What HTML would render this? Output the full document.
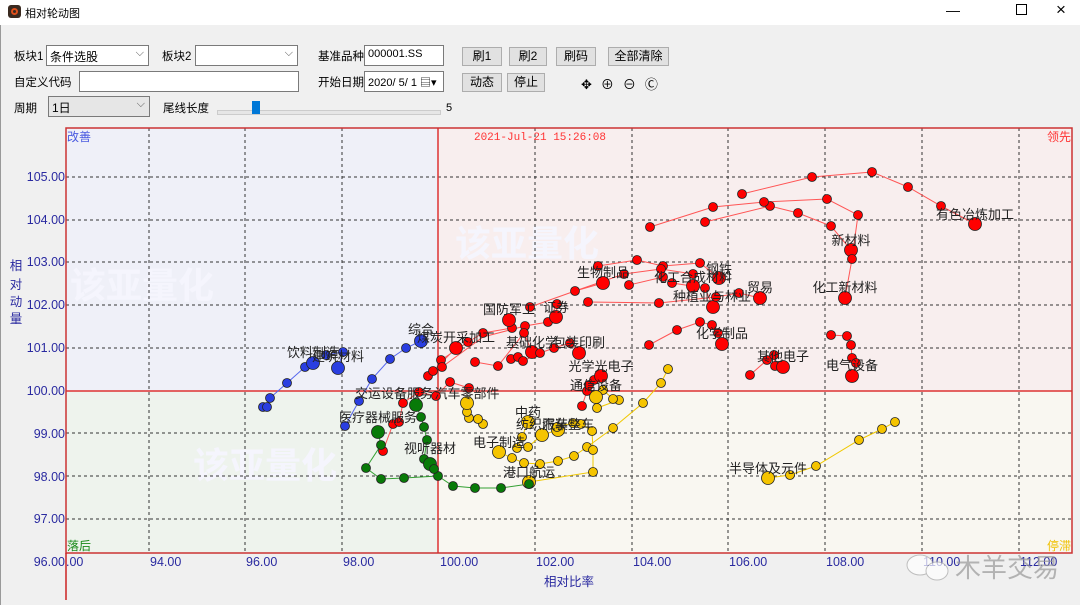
<!DOCTYPE html>
<html><head><meta charset="utf-8"><style>
body{margin:0;width:1080px;height:605px;background:#f0f0f0;font-family:"Liberation Sans","Noto Sans CJK SC",sans-serif;font-size:12px;color:#000;position:relative;overflow:hidden}
.a{position:absolute}
.in{position:absolute;background:#fff;border:1px solid #7a7a7a;box-sizing:border-box;height:21px}
.btn{position:absolute;background:#e1e1e1;border:1px solid #adadad;box-sizing:border-box;height:19px;text-align:center;line-height:17px;font-size:12px}
.dd:after{content:"⌵";position:absolute;right:4px;top:1px;color:#555;font-size:11px}
</style></head><body>
<div class="a" style="left:0;top:0;width:1080px;height:25px;background:#fff"></div>
<div class="a" style="left:8px;top:5px;width:13px;height:13px;background:#3a2a20;border-radius:3px"></div>
<div class="a" style="left:11px;top:8px;width:7px;height:7px;border:2px solid #e0501c;border-radius:50%;box-sizing:border-box"></div>
<div class="a" style="left:25px;top:5px;font-size:11px">相对轮动图</div>
<div class="a" style="left:946px;top:2px;font-size:14px">—</div>
<div class="a" style="left:1016px;top:4px;width:9px;height:9px;border:1px solid #000"></div>
<div class="a" style="left:1056px;top:0px;font-size:17px">×</div>
<div class="a" style="left:0;top:25px;width:1px;height:580px;background:#999"></div>

<div class="a" style="left:14px;top:48px;font-size:11.5px">板块1</div>
<div class="in dd" style="left:46px;top:45px;width:103px;padding:2px 3px">条件选股</div>
<div class="a" style="left:162px;top:48px;font-size:11.5px">板块2</div>
<div class="in dd" style="left:195px;top:45px;width:103px"></div>
<div class="a" style="left:318px;top:48px;font-size:11.5px">基准品种</div>
<div class="in" style="left:364px;top:45px;width:80px;padding:2px 3px;font-size:11px">000001.SS</div>
<div class="btn" style="left:462px;top:47px;width:40px">刷1</div>
<div class="btn" style="left:509px;top:47px;width:38px">刷2</div>
<div class="btn" style="left:556px;top:47px;width:40px">刷码</div>
<div class="btn" style="left:608px;top:47px;width:61px">全部清除</div>
<div class="a" style="left:14px;top:74px;font-size:11.5px">自定义代码</div>
<div class="in" style="left:79px;top:71px;width:220px"></div>
<div class="a" style="left:318px;top:74px;font-size:11.5px">开始日期:</div>
<div class="in" style="left:364px;top:71px;width:80px;padding:2px 3px;font-size:11px">2020/ 5/ 1 ▤▾</div>
<div class="btn" style="left:462px;top:73px;width:40px">动态</div>
<div class="btn" style="left:507px;top:73px;width:38px">停止</div>
<div class="a" style="left:581px;top:74px;font-size:13px;letter-spacing:9px">✥⊕⊖Ⓒ</div>
<div class="a" style="left:14px;top:100px;font-size:11.5px">周期</div>
<div class="in dd" style="left:48px;top:96px;width:102px;background:#e6e6e6;padding:2px 3px">1日</div>
<div class="a" style="left:163px;top:100px;font-size:11.5px">尾线长度</div>
<div class="a" style="left:217px;top:110px;width:222px;height:3px;background:#e6e6e6;border:1px solid #ccc"></div>
<div class="a" style="left:252px;top:101px;width:8px;height:13px;background:#0078d7"></div>
<div class="a" style="left:446px;top:102px;font-size:11px">5</div>

<svg class="a" style="left:0;top:0" width="1080" height="605" font-family="Liberation Sans, Noto Sans CJK SC, sans-serif">
<rect x="66" y="128" width="372" height="263" fill="#eff0f8"/>
<rect x="438" y="128" width="634" height="263" fill="#f8eeee"/>
<rect x="66" y="391" width="372" height="162" fill="#eef3ed"/>
<rect x="438" y="391" width="634" height="162" fill="#f9f7f1"/>
<g font-size="36" font-weight="bold" fill="#f5f5fd" >
<text x="455" y="256">该亚量化</text><text x="70" y="298">该亚量化</text><text x="193" y="478">该亚量化</text></g>
<g stroke="#333" stroke-dasharray="3,3" stroke-width="1">
<line x1="149" y1="128" x2="149" y2="553"/><line x1="245" y1="128" x2="245" y2="553"/><line x1="342" y1="128" x2="342" y2="553"/><line x1="535" y1="128" x2="535" y2="553"/><line x1="632" y1="128" x2="632" y2="553"/><line x1="728" y1="128" x2="728" y2="553"/><line x1="825" y1="128" x2="825" y2="553"/><line x1="922" y1="128" x2="922" y2="553"/><line x1="1019" y1="128" x2="1019" y2="553"/>
<line x1="66" y1="177" x2="1072" y2="177"/><line x1="66" y1="220" x2="1072" y2="220"/><line x1="66" y1="262" x2="1072" y2="262"/><line x1="66" y1="305" x2="1072" y2="305"/><line x1="66" y1="348" x2="1072" y2="348"/><line x1="66" y1="433" x2="1072" y2="433"/><line x1="66" y1="476" x2="1072" y2="476"/><line x1="66" y1="519" x2="1072" y2="519"/>
</g>
<line x1="438" y1="128" x2="438" y2="553" stroke="#d33" stroke-width="1.5"/>
<line x1="66" y1="391" x2="1072" y2="391" stroke="#d33" stroke-width="1.5"/>
<rect x="66" y="128" width="1006" height="425" fill="none" stroke="#cc3333" stroke-width="1.5"/>
<line x1="66" y1="553" x2="66" y2="600" stroke="#cc2222" stroke-width="1.5"/>
<text x="540" y="140" font-family="Liberation Mono, monospace" font-size="11" fill="#f33" text-anchor="middle">2021-Jul-21 15:26:08</text>
<g font-size="12"><text x="67" y="141" fill="#4a5ae0">改善</text><text x="1047" y="141" fill="#f33">领先</text><text x="67" y="550" fill="#1a8a1a">落后</text><text x="1047" y="550" fill="#f0c000">停滞</text></g>
<g font-size="12.5" fill="#2a2aa0" text-anchor="end">
<text x="65" y="181">105.00</text><text x="65" y="224">104.00</text><text x="65" y="266">103.00</text><text x="65" y="309">102.00</text><text x="65" y="352">101.00</text><text x="65" y="395">100.00</text><text x="65" y="438">99.00</text><text x="65" y="481">98.00</text><text x="65" y="523">97.00</text><text x="65" y="566">96.00</text></g>
<g font-size="12.5" fill="#2a2aa0">
<text x="66" y="566">.00</text><text x="150" y="566">94.00</text><text x="246" y="566">96.00</text><text x="343" y="566">98.00</text><text x="440" y="566">100.00</text><text x="536" y="566">102.00</text><text x="633" y="566">104.00</text><text x="729" y="566">106.00</text><text x="826" y="566">108.00</text><text x="923" y="566">110.00</text><text x="1020" y="566">112.00</text>
<text x="544" y="586">相对比率</text>
<text x="16" y="270" text-anchor="middle">相</text><text x="16" y="289" text-anchor="middle">对</text><text x="16" y="306" text-anchor="middle">动</text><text x="16" y="323" text-anchor="middle">量</text></g>

<g fill="none" stroke-width="1">
<g stroke="#ff5555">
<polyline points="742,194 812,177 872,172 908,187 941,206 975,224"/>
<polyline points="705,222 770,206 798,213 831,226 851,250"/>
<polyline points="650,227 713,207 764,202 827,199 858,215 852,259 845,298"/>
<polyline points="831,335 847,336 851,345 852,358 856,363 852,376"/>
<polyline points="750,375 767,360 774,355 775,366 783,367"/>
<polyline points="649,345 677,330 700,322 712,325 718,333 722,344"/>
<polyline points="598,266 637,260 663,266 700,263 719,278"/>
<polyline points="575,291 624,274 661,269 693,274 693,286"/>
<polyline points="629,285 663,277 672,283 705,288 713,307"/>
<polyline points="588,302 659,303 716,297 739,293 760,298"/>
<polyline points="530,307 575,291 603,283"/>
<polyline points="441,360 468,342 483,333 512,328 509,320"/>
<polyline points="442,367 483,337 525,326 548,322 557,304 556,317"/>
<polyline points="428,376 433,371 456,348"/>
<polyline points="475,362 498,366 524,333 532,352"/>
<polyline points="511,359 518,357 523,361 540,353 554,348 570,343 579,353"/>
<polyline points="582,406 587,391 589,385 594,380 601,376"/>
<polyline points="383,451 393,424 399,422 403,403 419,392 436,396 450,382 469,388"/>
</g>
<g stroke="#5566ee"><polyline points="263,407 267,407 270,398 287,383 305,367 313,363"/><polyline points="326,355 343,352 338,368"/><polyline points="345,426 359,401 372,379 390,359 406,348 421,341"/></g>
<g stroke="#33a033"><polyline points="438,476 404,478 381,479 366,468 381,445 378,432"/><polyline points="416,405 421,417 424,427 427,440 424,459 430,464"/><polyline points="434,469 438,476 453,486 475,488 501,488 529,484"/></g>
<g stroke="#f0c800"><polyline points="483,424 478,419 469,418 467,412 467,403"/><polyline points="517,448 522,437 528,422"/><polyline points="528,447 542,435 558,430"/>
<polyline points="668,369 661,383 643,403 613,428 587,447 574,456 558,461 540,464 524,463 512,458 499,452"/>
<polyline points="557,427 573,423 581,424 592,431 593,450 593,472 529,482"/>
<polyline points="597,408 619,400 613,399 603,390 596,397"/>
<polyline points="895,422 882,429 859,440 816,466 790,475 768,478"/></g>
</g>
<g stroke="#222" stroke-width="0.8">
<g fill="#f00">
<circle cx="742" cy="194" r="4.5"/><circle cx="812" cy="177" r="4.5"/><circle cx="872" cy="172" r="4.5"/><circle cx="908" cy="187" r="4.5"/><circle cx="941" cy="206" r="4.5"/><circle cx="975" cy="224" r="6.5"/>
<circle cx="705" cy="222" r="4.5"/><circle cx="770" cy="206" r="4.5"/><circle cx="798" cy="213" r="4.5"/><circle cx="831" cy="226" r="4.5"/><circle cx="851" cy="250" r="6.5"/>
<circle cx="650" cy="227" r="4.5"/><circle cx="713" cy="207" r="4.5"/><circle cx="764" cy="202" r="4.5"/><circle cx="827" cy="199" r="4.5"/><circle cx="858" cy="215" r="4.5"/><circle cx="852" cy="259" r="4.5"/><circle cx="845" cy="298" r="6.5"/>
<circle cx="831" cy="335" r="4.5"/><circle cx="847" cy="336" r="4.5"/><circle cx="851" cy="345" r="4.5"/><circle cx="852" cy="358" r="4.5"/><circle cx="856" cy="363" r="4.5"/><circle cx="852" cy="376" r="6.5"/>
<circle cx="750" cy="375" r="4.5"/><circle cx="767" cy="360" r="4.5"/><circle cx="774" cy="355" r="4.5"/><circle cx="775" cy="366" r="4.5"/><circle cx="783" cy="367" r="6.5"/>
<circle cx="649" cy="345" r="4.5"/><circle cx="677" cy="330" r="4.5"/><circle cx="700" cy="322" r="4.5"/><circle cx="712" cy="325" r="4.5"/><circle cx="718" cy="333" r="4.5"/><circle cx="722" cy="344" r="6.5"/>
<circle cx="598" cy="266" r="4.5"/><circle cx="637" cy="260" r="4.5"/><circle cx="663" cy="266" r="4.5"/><circle cx="700" cy="263" r="4.5"/><circle cx="719" cy="278" r="6.5"/>
<circle cx="575" cy="291" r="4.5"/><circle cx="624" cy="274" r="4.5"/><circle cx="661" cy="269" r="4.5"/><circle cx="693" cy="274" r="4.5"/><circle cx="693" cy="286" r="6.5"/>
<circle cx="629" cy="285" r="4.5"/><circle cx="663" cy="277" r="4.5"/><circle cx="672" cy="283" r="4.5"/><circle cx="705" cy="288" r="4.5"/><circle cx="713" cy="307" r="6.5"/>
<circle cx="588" cy="302" r="4.5"/><circle cx="659" cy="303" r="4.5"/><circle cx="716" cy="297" r="4.5"/><circle cx="739" cy="293" r="4.5"/><circle cx="760" cy="298" r="6.5"/>
<circle cx="530" cy="307" r="4.5"/><circle cx="603" cy="283" r="6.5"/>
<circle cx="441" cy="360" r="4.5"/><circle cx="468" cy="342" r="4.5"/><circle cx="483" cy="333" r="4.5"/><circle cx="512" cy="328" r="4.5"/><circle cx="509" cy="320" r="6.5"/>
<circle cx="442" cy="367" r="4.5"/><circle cx="525" cy="326" r="4.5"/><circle cx="548" cy="322" r="4.5"/><circle cx="557" cy="304" r="4.5"/><circle cx="556" cy="317" r="6.5"/>
<circle cx="428" cy="376" r="4.5"/><circle cx="433" cy="371" r="4.5"/><circle cx="456" cy="348" r="6.5"/>
<circle cx="475" cy="362" r="4.5"/><circle cx="498" cy="366" r="4.5"/><circle cx="524" cy="333" r="4.5"/><circle cx="532" cy="352" r="6.5"/>
<circle cx="511" cy="359" r="4.5"/><circle cx="518" cy="357" r="4.5"/><circle cx="523" cy="361" r="4.5"/><circle cx="540" cy="353" r="4.5"/><circle cx="554" cy="348" r="4.5"/><circle cx="570" cy="343" r="4.5"/><circle cx="579" cy="353" r="6.5"/>
<circle cx="582" cy="406" r="4.5"/><circle cx="587" cy="391" r="4.5"/><circle cx="589" cy="385" r="4.5"/><circle cx="594" cy="380" r="4.5"/><circle cx="601" cy="376" r="6.5"/>
<circle cx="383" cy="451" r="4.5"/><circle cx="393" cy="424" r="4.5"/><circle cx="399" cy="422" r="4.5"/><circle cx="403" cy="403" r="4.5"/><circle cx="419" cy="392" r="4.5"/><circle cx="436" cy="396" r="4.5"/><circle cx="450" cy="382" r="4.5"/><circle cx="469" cy="388" r="4.5"/>
</g>
<g fill="#2a3ee0">
<circle cx="263" cy="407" r="4.5"/><circle cx="267" cy="407" r="4.5"/><circle cx="270" cy="398" r="4.5"/><circle cx="287" cy="383" r="4.5"/><circle cx="305" cy="367" r="4.5"/><circle cx="313" cy="363" r="6.5"/>
<circle cx="326" cy="355" r="4.5"/><circle cx="343" cy="352" r="4.5"/><circle cx="338" cy="368" r="6.5"/>
<circle cx="345" cy="426" r="4.5"/><circle cx="359" cy="401" r="4.5"/><circle cx="372" cy="379" r="4.5"/><circle cx="390" cy="359" r="4.5"/><circle cx="406" cy="348" r="4.5"/><circle cx="421" cy="341" r="6.5"/>
</g>
<g fill="#087a08">
<circle cx="438" cy="476" r="4.5"/><circle cx="404" cy="478" r="4.5"/><circle cx="381" cy="479" r="4.5"/><circle cx="366" cy="468" r="4.5"/><circle cx="381" cy="445" r="4.5"/><circle cx="378" cy="432" r="6.5"/>
<circle cx="416" cy="405" r="6.5"/><circle cx="421" cy="417" r="4.5"/><circle cx="424" cy="427" r="4.5"/><circle cx="427" cy="440" r="4.5"/><circle cx="424" cy="459" r="4.5"/><circle cx="430" cy="464" r="6.5"/>
<circle cx="434" cy="469" r="4.5"/><circle cx="453" cy="486" r="4.5"/><circle cx="475" cy="488" r="4.5"/><circle cx="501" cy="488" r="4.5"/>
</g>
<g fill="#f5c400">
<circle cx="483" cy="424" r="4.5"/><circle cx="478" cy="419" r="4.5"/><circle cx="469" cy="418" r="4.5"/><circle cx="467" cy="412" r="4.5"/><circle cx="467" cy="403" r="6.5"/>
<circle cx="517" cy="448" r="4.5"/><circle cx="522" cy="437" r="4.5"/><circle cx="528" cy="422" r="6.5"/>
<circle cx="528" cy="447" r="4.5"/><circle cx="542" cy="435" r="6.5"/><circle cx="558" cy="430" r="6.5"/>
<circle cx="668" cy="369" r="4.5"/><circle cx="661" cy="383" r="4.5"/><circle cx="643" cy="403" r="4.5"/><circle cx="613" cy="428" r="4.5"/><circle cx="587" cy="447" r="4.5"/><circle cx="574" cy="456" r="4.5"/><circle cx="558" cy="461" r="4.5"/><circle cx="540" cy="464" r="4.5"/><circle cx="524" cy="463" r="4.5"/><circle cx="512" cy="458" r="4.5"/><circle cx="499" cy="452" r="6.5"/>
<circle cx="557" cy="427" r="4.5"/><circle cx="573" cy="423" r="4.5"/><circle cx="581" cy="424" r="4.5"/><circle cx="592" cy="431" r="4.5"/><circle cx="593" cy="450" r="4.5"/><circle cx="593" cy="472" r="4.5"/><circle cx="529" cy="482" r="6.5"/>
<circle cx="597" cy="408" r="4.5"/><circle cx="619" cy="400" r="4.5"/><circle cx="613" cy="399" r="4.5"/><circle cx="603" cy="390" r="4.5"/><circle cx="596" cy="397" r="6.5"/>
<circle cx="895" cy="422" r="4.5"/><circle cx="882" cy="429" r="4.5"/><circle cx="859" cy="440" r="4.5"/><circle cx="816" cy="466" r="4.5"/><circle cx="790" cy="475" r="4.5"/><circle cx="768" cy="478" r="6.5"/>
</g>
<circle cx="529" cy="484" r="4.5" fill="#087a08"/>
</g>
<g font-size="13" fill="#222" text-anchor="middle">
<text x="975" y="219">有色冶炼加工</text><text x="851" y="245">新材料</text><text x="845" y="292">化工新材料</text><text x="852" y="370">电气设备</text><text x="783" y="361">其他电子</text><text x="722" y="338">化学制品</text><text x="719" y="274">钢铁</text><text x="693" y="282">化工合成材料</text><text x="760" y="292">贸易</text><text x="712" y="301">种植业与林业</text><text x="603" y="277">生物制品</text><text x="509" y="314">国防军工</text><text x="556" y="312">证券</text><text x="456" y="342">煤炭开采加工</text><text x="421" y="334">综合</text><text x="532" y="347">基础化学</text><text x="579" y="347">包装印刷</text><text x="601" y="371">光学光电子</text><text x="596" y="390">通信设备</text><text x="394" y="398">交运设备服务</text><text x="467" y="398">汽车零部件</text><text x="313" y="357">饮料制造</text><text x="338" y="361">建筑材料</text><text x="378" y="422">医疗器械服务</text><text x="430" y="453">视听器材</text><text x="528" y="417">中药</text><text x="542" y="429">纺织服装</text><text x="568" y="429">汽车整车</text><text x="499" y="447">电子制造</text><text x="529" y="477">港口航运</text><text x="768" y="473">半导体及元件</text>
</g>
<g opacity="0.7"><ellipse cx="920" cy="565" rx="13" ry="10" fill="#fff" stroke="#aaa"/><ellipse cx="937" cy="571" rx="11" ry="9" fill="#fff" stroke="#aaa"/>
<text x="955" y="577" font-size="26" fill="#999">木羊交易</text></g>
</svg>
</body></html>
